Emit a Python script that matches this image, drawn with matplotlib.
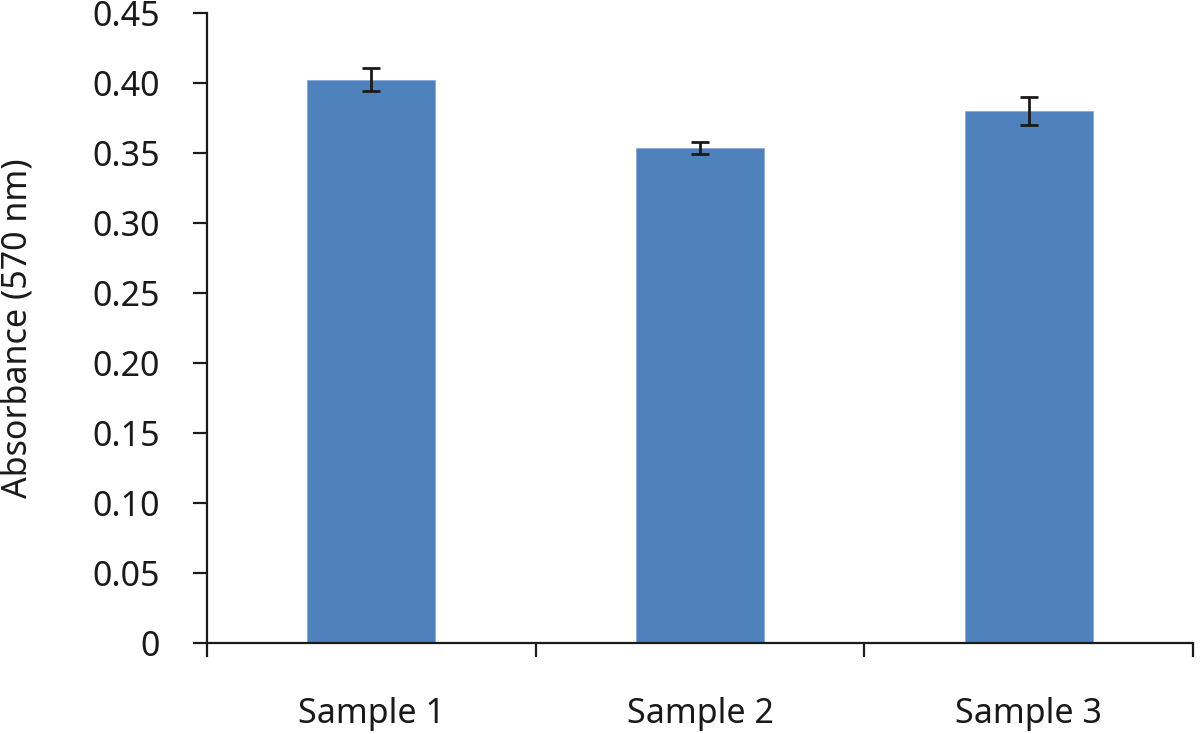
import matplotlib
matplotlib.use("Agg")
import matplotlib.pyplot as plt
import numpy as np

# data
samples = ["Sample 1", "Sample 2", "Sample 3"]
absorbance = [0.4025, 0.3535, 0.3800]
errors = [0.0082, 0.0044, 0.0102]
y_ticks = [0, 0.05, 0.10, 0.15, 0.20, 0.25, 0.30, 0.35, 0.40, 0.45]
y_tick_labels = ["0", "0.05", "0.10", "0.15", "0.20", "0.25", "0.30", "0.35", "0.40", "0.45"]

plt.rcParams['font.family'] = ['Noto Sans', 'DejaVu Sans']

fig = plt.figure(figsize=(12, 7.34), dpi=100)
ax = fig.add_axes([207 / 1200, 1 - 643 / 734, (1193 - 207) / 1200, 630 / 734])

x = np.arange(len(samples))
ax.bar(x, absorbance, width=0.39, color="#4F81BD", edgecolor="#8EAAD6", linewidth=0.6, zorder=2)
ax.errorbar(x, absorbance, yerr=errors, fmt="none", ecolor="#1a1a1a",
            elinewidth=2.0, capsize=6.5, capthick=2.0, zorder=3)

ax.set_xlim(-0.5, len(samples) - 0.5)
ax.set_ylim(0, 0.45)
ax.set_yticks(y_ticks)
ax.set_yticklabels(y_tick_labels)
ax.set_xticks(np.arange(len(samples) + 1) - 0.5)
ax.set_xticklabels([])
ax.set_xticks(x, minor=True)
ax.set_xticklabels(samples, minor=True)

for side in ["top", "right"]:
    ax.spines[side].set_visible(False)
for side in ["left", "bottom"]:
    ax.spines[side].set_linewidth(1.6)
    ax.spines[side].set_color("#1a1a1a")

ax.tick_params(axis="y", which="major", direction="out", length=10, width=1.6,
               color="#1a1a1a", labelsize=24.5, pad=24, labelcolor="#1a1a1a")
ax.tick_params(axis="x", which="major", direction="out", length=10, width=1.6, color="#1a1a1a")
ax.tick_params(axis="x", which="minor", length=0, labelsize=24.5, pad=39, labelcolor="#1a1a1a")

ax.set_ylabel("Absorbance (570 nm)", fontsize=24.5, color="#1a1a1a")
ax.yaxis.set_label_coords(-0.175, 0.5)

fig.savefig("out.png", dpi=100)
